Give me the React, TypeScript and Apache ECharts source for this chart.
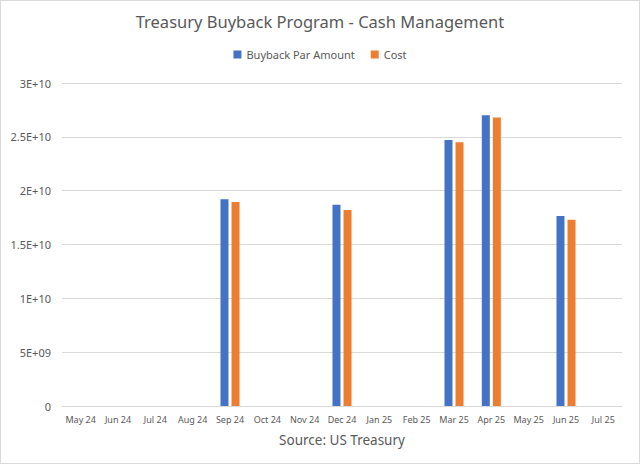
import React, { useEffect, useRef } from "react";
import * as echarts from "echarts";

const categories = ["May 24", "Jun 24", "Jul 24", "Aug 24", "Sep 24", "Oct 24", "Nov 24", "Dec 24", "Jan 25", "Feb 25", "Mar 25", "Apr 25", "May 25", "Jun 25", "Jul 25"];
const parAmount = [null, null, null, null, 19.2e9, null, null, 18.7e9, null, null, 24.7e9, 27.0e9, null, 17.65e9, null];
const cost = [null, null, null, null, 18.95e9, null, null, 18.2e9, null, null, 24.5e9, 26.8e9, null, 17.3e9, null];

const FONT = "'Noto Sans', sans-serif";

function fmtExp(v: number): string {
  if (v === 0) return "0";
  const e = Math.floor(Math.log10(v) + 1e-9);
  const m = Math.round((v / Math.pow(10, e)) * 100) / 100;
  return `${m}E+${String(e).padStart(2, "0")}`;
}

export default function App() {
  const ref = useRef<HTMLDivElement>(null);
  useEffect(() => {
    if (!ref.current) return;
    const chart = echarts.init(ref.current, undefined, { renderer: "svg" });
    chart.setOption({
      animation: false,
      backgroundColor: "#ffffff",
      title: {
        text: "Treasury Buyback Program - Cash Management",
        left: "center",
        top: 7,
        textStyle: { fontFamily: FONT, fontSize: 16.5, fontWeight: "normal", color: "#595959" },
      },
      legend: {
        top: 43,
        left: "center",
        itemWidth: 8,
        itemHeight: 8,
        itemGap: 16,
        icon: "rect",
        textStyle: { fontFamily: FONT, fontSize: 11, color: "#595959" },
        data: ["Buyback Par Amount", "Cost"],
      },
      grid: { left: 61, right: 17, top: 82, bottom: 57 },
      xAxis: {
        type: "category",
        data: categories,
        name: "Source: US Treasury",
        nameLocation: "middle",
        nameGap: 27,
        nameTextStyle: { fontFamily: FONT, fontSize: 13.5, color: "#595959" },
        axisLine: { lineStyle: { color: "#d9d9d9" } },
        axisTick: { show: false },
        axisLabel: { fontFamily: FONT, fontSize: 9, color: "#595959", margin: 9, interval: 0 },
      },
      yAxis: {
        type: "value",
        min: 0,
        max: 3e10,
        interval: 5e9,
        axisLine: { show: false },
        axisTick: { show: false },
        splitLine: { lineStyle: { color: "#d9d9d9" } },
        axisLabel: { fontFamily: FONT, fontSize: 11, color: "#595959", margin: 11, formatter: (v: number) => fmtExp(v) },
      },
      series: [
        {
          name: "Buyback Par Amount",
          type: "bar",
          data: parAmount,
          itemStyle: { color: "#4472C4" },
          barGap: "38%",
          barCategoryGap: "49%",
        },
        {
          name: "Cost",
          type: "bar",
          data: cost,
          itemStyle: { color: "#ED7D31" },
          barGap: "38%",
          barCategoryGap: "49%",
        },
      ],
    });
    return () => chart.dispose();
  }, []);
  return (
    <div
      style={{
        position: "fixed",
        left: 0,
        top: 0,
        width: 640,
        height: 464,
        boxSizing: "border-box",
        border: "1px solid #d9d9d9",
        background: "#fff",
      }}
    >
      <div ref={ref} style={{ width: 638, height: 462 }} />
    </div>
  );
}
